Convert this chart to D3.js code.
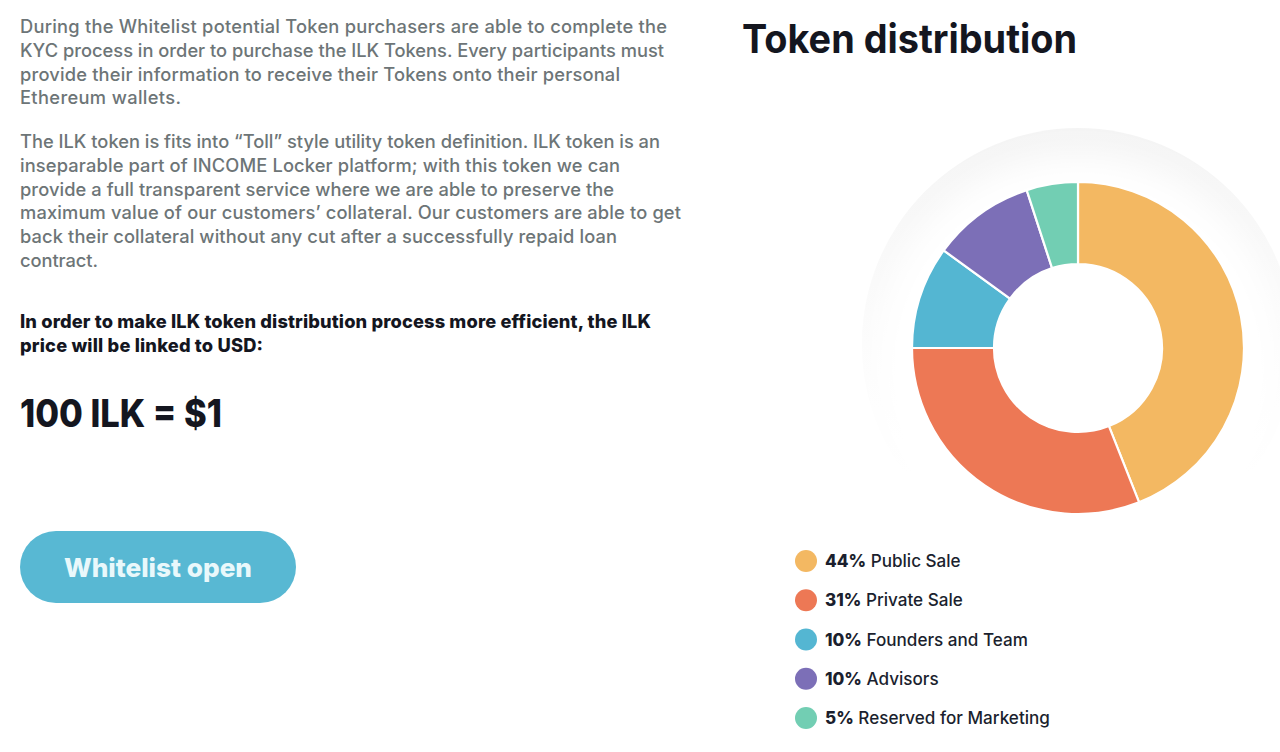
<!DOCTYPE html>
<html>
<head>
<meta charset="utf-8">
<script src="https://cdnjs.cloudflare.com/ajax/libs/d3/7.8.5/d3.min.js"></script>
<style>
html, body { margin: 0; padding: 0; background: #fff; }
svg { display: block; }
text { font-family: Inter, "Noto Sans", sans-serif; }
</style>
</head>
<body>
<div id="chart"></div>
<script>
var categories = ['Public Sale', 'Private Sale', 'Founders and Team', 'Advisors', 'Reserved for Marketing'];
var shares = [44, 31, 10, 10, 5];
var colors = ['#f3b862', '#ed7855', '#54b6d2', '#7c6fb7', '#72ceb3'];

var introLines = [
	'During the Whitelist potential Token purchasers are able to complete the',
	'KYC process in order to purchase the ILK Tokens. Every participants must',
	'provide their information to receive their Tokens onto their personal',
	'Ethereum wallets.'
];
var tokenLines = [
	'The ILK token is fits into \u201cToll\u201d style utility token definition. ILK token is an',
	'inseparable part of INCOME Locker platform; with this token we can',
	'provide a full transparent service where we are able to preserve the',
	'maximum value of our customers\u2019 collateral. Our customers are able to get',
	'back their collateral without any cut after a successfully repaid loan',
	'contract.'
];
var boldLines = [
	'In order to make ILK token distribution process more efficient, the ILK',
	'price will be linked to USD:'
];

var options = {
	w: 1280,
	h: 752,
	pie: { x: 1078, y: 348, outer: 166, inner: 84, halo: 216 },
	legend: { x: 806, top: 561, bottom: 718, r: 11 },
	text: { x: 20, gray: '#6d7577', dark: '#14161f' }
};

// measured line widths, the original webfont is not available here
var introWidths = [647, 644, 600, 161];
var tokenWidths = [640, 600, 594, 661, 597, 78];
var boldWidths = [631, 243];

var svg = d3.select('#chart')
	.append('svg')
	.attr('width', options.w)
	.attr('height', options.h);

var defs = svg.append('defs');

var haloFill = defs.append('linearGradient')
	.attr('id', 'haloFill')
	.attr('x1', 0).attr('y1', 0)
	.attr('x2', 0).attr('y2', 1);
haloFill.append('stop').attr('offset', '0%').attr('stop-color', '#f4f4f4');
haloFill.append('stop').attr('offset', '50%').attr('stop-color', '#fbfbfb');
haloFill.append('stop').attr('offset', '80%').attr('stop-color', '#ffffff');

defs.append('filter')
	.attr('id', 'soft')
	.attr('x', '-20%').attr('y', '-20%')
	.attr('width', '140%').attr('height', '140%')
	.append('feGaussianBlur')
	.attr('stdDeviation', 16);

function drawLines(lines, widths, top, step, weight, fill){
	svg.append('g')
		.selectAll('text')
		.data(lines)
		.enter()
		.append('text')
		.attr('x', options.text.x)
		.attr('y', function(d, i) { return top + step * i; })
		.attr('font-size', 18.3)
		.attr('font-weight', weight)
		.attr('textLength', function(d, i) { return widths[i]; })
		.attr('lengthAdjust', 'spacing')
		.attr('fill', fill)
		.text(function(d) { return d; });
}

drawLines(introLines, introWidths, 33, 23.8, 500, options.text.gray);
drawLines(tokenLines, tokenWidths, 148, 23.8, 500, options.text.gray);
drawLines(boldLines, boldWidths, 328, 23.8, 800, options.text.dark);

svg.append('text')
	.attr('x', options.text.x)
	.attr('y', 427)
	.attr('font-size', 38)
	.attr('font-weight', 800)
	.attr('textLength', 202)
	.attr('lengthAdjust', 'spacingAndGlyphs')
	.attr('fill', options.text.dark)
	.text('100 ILK = $1');

// button
svg.append('rect')
	.attr('x', 20)
	.attr('y', 531)
	.attr('width', 276)
	.attr('height', 72)
	.attr('rx', 36)
	.attr('fill', '#58b8d3');

svg.append('text')
	.attr('x', 64)
	.attr('y', 577)
	.attr('font-size', 26)
	.attr('font-weight', 800)
	.attr('textLength', 188)
	.attr('lengthAdjust', 'spacingAndGlyphs')
	.attr('fill', '#e9f8fb')
	.text('Whitelist open');

svg.append('text')
	.attr('x', 742)
	.attr('y', 53)
	.attr('font-size', 40)
	.attr('font-weight', 700)
	.attr('textLength', 335)
	.attr('lengthAdjust', 'spacingAndGlyphs')
	.attr('fill', options.text.dark)
	.text('Token distribution');

// donut
var center = svg.append('g')
	.attr('transform', 'translate(' + options.pie.x + ',' + options.pie.y + ')');

center.append('circle')
	.attr('r', options.pie.halo)
	.attr('cy', -4)
	.attr('fill', 'url(#haloFill)');

center.append('circle')
	.attr('r', options.pie.halo - 14)
	.attr('cy', 10)
	.attr('fill', '#fff')
	.attr('filter', 'url(#soft)');

var pie = d3.pie().sort(null);
var arc = d3.arc().innerRadius(options.pie.inner).outerRadius(options.pie.outer);

center.selectAll('path')
	.data(pie(shares))
	.enter()
	.append('path')
	.attr('d', arc)
	.attr('fill', function(d, i) { return colors[i]; })
	.attr('stroke', '#fff')
	.attr('stroke-width', 2.2);

// legend
var legendY = d3.scalePoint()
	.domain(categories)
	.range([options.legend.top, options.legend.bottom]);

var rows = svg.append('g')
	.selectAll('g')
	.data(categories)
	.enter()
	.append('g')
	.attr('transform', function(d) { return 'translate(' + options.legend.x + ',' + legendY(d) + ')'; });

rows.append('circle')
	.attr('r', options.legend.r)
	.attr('fill', function(d, i) { return colors[i]; });

var labels = rows.append('text')
	.attr('x', 19)
	.attr('y', 6)
	.attr('font-size', 17.1)
	.attr('font-weight', 500)
	.attr('fill', '#1b1f2e');

labels.append('tspan')
	.attr('font-weight', 800)
	.text(function(d, i) { return shares[i] + '%'; });

labels.append('tspan')
	.text(function(d) { return ' ' + d; });
</script>
</body>
</html>
